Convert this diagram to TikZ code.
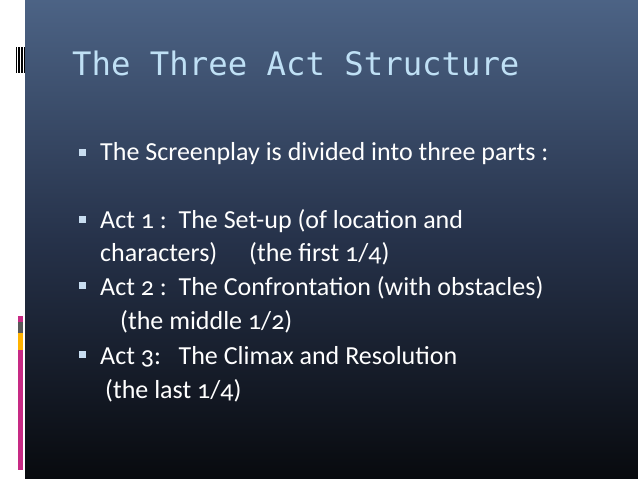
\documentclass[tikz,border=0pt]{standalone}
\usepackage{fontspec}
\setmainfont[Numbers=OldStyle]{Carlito}
\newfontfamily\titlefont{DejaVu Sans Mono}
\begin{document}
\begin{tikzpicture}[x=1pt,y=-1pt,
  body/.style={anchor=base west,inner sep=0pt,text=white,font=\fontsize{26}{30}\selectfont},
  bul/.style={fill=bulletblue,minimum size=7pt,inner sep=0pt}]
\definecolor{bulletblue}{HTML}{C8DDF0}
\definecolor{titleblue}{HTML}{BFE0F5}
\useasboundingbox (0,0) rectangle (638,479);
\fill[white] (0,0) rectangle (638,479);
\shade[top color={rgb,255:red,76;green,99;blue,133},bottom color={rgb,255:red,8;green,10;blue,14},middle color={rgb,255:red,38;green,50;blue,74}] (25,0) rectangle (638,479);
% black stripes
\foreach \x in {15.5,17.5,19,20.5,22,23.5} \fill[black] (\x,47) rectangle +(0.9,26);
% colour bars
\fill[magenta!80!black] (18,316) rectangle (23,322);
\fill[gray!70!black] (18,322) rectangle (23,333);
\fill[orange!60!yellow] (18,333) rectangle (23,350);
\fill[magenta!80!black] (18,350) rectangle (23,470);
\node[anchor=base west,inner sep=0pt,text=titleblue,font=\titlefont\fontsize{32.3}{34}\selectfont] (title) at (72,75) {The Three Act Structure};
\node[bul] (b1) at (82,152) {};
\node[bul] (b2) at (82,219) {};
\node[bul] (b3) at (82,285) {};
\node[bul] (b4) at (82,354) {};
\node[body] (t1) at (100,160) {The Screenplay is divided into three parts :};
\node[body] (t2) at (100,228) {Act 1 :\ \ The Set-up (of location and};
\node[body] (t2b) at (100,261) {characters)\quad\ (the first 1/4)};
\node[body] (t3) at (100,295) {Act 2 :\ \ The Confrontation (with obstacles)};
\node[body] (t3b) at (120,329) {(the middle 1/2)};
\node[body] (t4) at (100,364) {Act 3:\ \ \ The Climax and Resolution};
\node[body] (t4b) at (105,398) {(the last 1/4)};
\end{tikzpicture}
\end{document}
